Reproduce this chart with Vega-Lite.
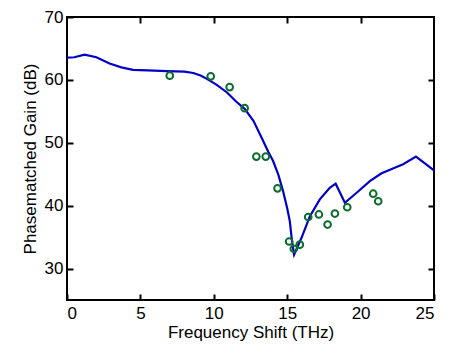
{
  "$schema": "https://vega.github.io/schema/vega-lite/v6.json",
  "width": 367,
  "height": 283,
  "autosize": "none",
  "padding": {"left": 67, "top": 17, "right": 40, "bottom": 55},
  "background": "white",
  "config": {
    "view": {"stroke": "black", "strokeWidth": 2},
    "font": "Liberation Sans",
    "axis": {
      "grid": false,
      "labelFont": "Liberation Sans",
      "titleFont": "Liberation Sans",
      "labelFontSize": 17,
      "titleFontSize": 17,
      "titleFontWeight": "normal",
      "labelColor": "black",
      "titleColor": "black"
    }
  },
  "datasets": {
    "model": [
      {"f": 0, "g": 63.55}, {"f": 0.5, "g": 63.6}, {"f": 1.2, "g": 64.0}, {"f": 2.0, "g": 63.6},
      {"f": 2.9, "g": 62.6}, {"f": 3.7, "g": 62.0}, {"f": 4.5, "g": 61.6}, {"f": 5.5, "g": 61.5},
      {"f": 6.8, "g": 61.4}, {"f": 8.0, "g": 61.3}, {"f": 8.6, "g": 61.1}, {"f": 9.1, "g": 60.7},
      {"f": 9.5, "g": 60.2}, {"f": 10.2, "g": 59.2}, {"f": 10.9, "g": 58.0}, {"f": 11.5, "g": 56.6},
      {"f": 12.1, "g": 55.4}, {"f": 12.7, "g": 53.5}, {"f": 13.3, "g": 50.6}, {"f": 13.7, "g": 48.6},
      {"f": 14.04, "g": 47.1}, {"f": 14.4, "g": 44.9}, {"f": 14.72, "g": 42.3}, {"f": 15.0, "g": 39.6},
      {"f": 15.18, "g": 37.5}, {"f": 15.33, "g": 34.3}, {"f": 15.47, "g": 32.2}, {"f": 15.97, "g": 34.85},
      {"f": 16.54, "g": 38.3}, {"f": 17.22, "g": 41.0}, {"f": 17.9, "g": 42.85}, {"f": 18.3, "g": 43.5},
      {"f": 18.93, "g": 40.45}, {"f": 19.73, "g": 42.05}, {"f": 20.63, "g": 43.9}, {"f": 21.4, "g": 45.1},
      {"f": 22.2, "g": 45.9}, {"f": 22.9, "g": 46.6}, {"f": 23.77, "g": 47.8}, {"f": 24.4, "g": 46.7},
      {"f": 25.0, "g": 45.6}
    ],
    "measured": [
      {"f": 7.0, "g": 60.67}, {"f": 9.79, "g": 60.56}, {"f": 11.08, "g": 58.85}, {"f": 12.1, "g": 55.5},
      {"f": 12.9, "g": 47.8}, {"f": 13.54, "g": 47.8}, {"f": 14.34, "g": 42.75}, {"f": 15.13, "g": 34.3},
      {"f": 15.45, "g": 33.15}, {"f": 15.86, "g": 33.8}, {"f": 16.43, "g": 38.2}, {"f": 17.16, "g": 38.6},
      {"f": 17.75, "g": 37.0}, {"f": 18.25, "g": 38.75}, {"f": 19.09, "g": 39.75}, {"f": 20.86, "g": 41.9},
      {"f": 21.2, "g": 40.7}
    ]
  },
  "layer": [
    {
      "data": {"name": "model"},
      "mark": {"type": "line", "color": "#0000c8", "strokeWidth": 2.2, "clip": true},
      "encoding": {
        "x": {"field": "f", "type": "quantitative", "scale": {"domain": [0, 25], "nice": false},
          "axis": {"orient": "bottom", "title": "Frequency Shift (THz)", "values": [0, 5, 10, 15, 20, 25],
            "domain": false, "ticks": true, "tickColor": "black", "tickWidth": 2, "tickSize": -6, "labelPadding": 11, "titlePadding": 3}},
        "y": {"field": "g", "type": "quantitative", "scale": {"domain": [25, 70], "nice": false, "zero": false},
          "axis": {"orient": "left", "title": "Phasematched Gain (dB)", "values": [30, 40, 50, 60, 70],
            "domain": false, "ticks": true, "tickColor": "black", "tickWidth": 2, "tickSize": -6, "labelPadding": 10, "titlePadding": 5}}
      }
    },
    {
      "data": {"name": "measured"},
      "mark": {"type": "point", "filled": false, "color": "#0b6e2e", "opacity": 1, "strokeWidth": 2, "size": 45},
      "encoding": {
        "x": {"field": "f", "type": "quantitative", "scale": {"domain": [0, 25], "nice": false},
          "axis": {"orient": "top", "title": null, "labels": false, "domain": false, "ticks": true, "tickColor": "black", "tickWidth": 2, "values": [5, 10, 15, 20], "tickSize": -6}},
        "y": {"field": "g", "type": "quantitative", "scale": {"domain": [25, 70], "nice": false, "zero": false},
          "axis": {"orient": "right", "title": null, "labels": false, "domain": false, "ticks": true, "tickColor": "black", "tickWidth": 2, "values": [30, 40, 50, 60], "tickSize": -6}}
      }
    }
  ],
  "resolve": {"axis": {"x": "independent", "y": "independent"}}
}
